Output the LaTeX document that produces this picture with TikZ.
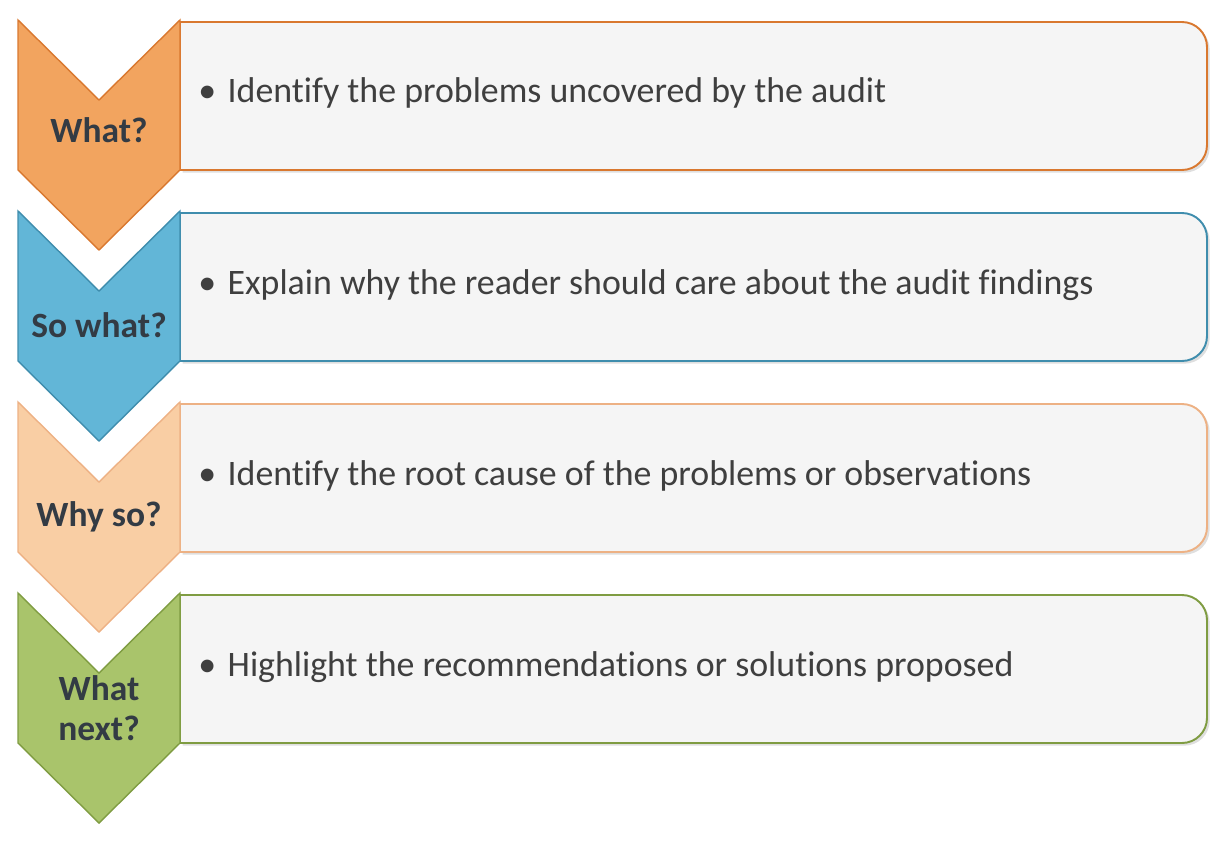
\documentclass[tikz,border=0pt]{standalone}
\usepackage{fontspec}
\setmainfont{Carlito}[Ligatures=NoCommon]
\usetikzlibrary{shadows}

\definecolor{orangeF}{HTML}{F2A45F}
\definecolor{orangeD}{HTML}{D9782F}
\definecolor{blueF}{HTML}{62B6D7}
\definecolor{blueD}{HTML}{3F8DAD}
\definecolor{peachF}{HTML}{F9CEA4}
\definecolor{peachD}{HTML}{EDB184}
\definecolor{greenF}{HTML}{A9C46B}
\definecolor{greenD}{HTML}{7F9C42}
\definecolor{boxgray}{HTML}{F5F5F5}
\definecolor{lblgray}{HTML}{333B44}
\definecolor{itemgray}{HTML}{3F3F3F}

\begin{document}
\begin{tikzpicture}[x=0.02cm,y=0.02cm,
	chev/.style={line width=0.8pt, line join=miter},
	txtbox/.style={fill=boxgray, line width=1.1pt,
		drop shadow={opacity=0.25, shadow xshift=1.5pt, shadow yshift=-1.5pt}},
	lbl/.style={font=\fontsize{20.2}{23}\selectfont\bfseries, text=lblgray, align=center},
	item/.style={anchor=west, inner sep=0pt, font=\fontsize{20.4}{24}\selectfont, text=itemgray}]
	\useasboundingbox (0,0) rectangle (1220,840);

	% What?
	\draw[txtbox, draw=orangeD] (180,818) -- (1182,818) arc[start angle=90, end angle=0, radius=25]
		-- (1207,695) arc[start angle=0, end angle=-90, radius=25] -- (180,670) -- cycle;
	\draw[chev, fill=orangeF, draw=orangeD] (18,820) -- (99,740) -- (180,820) -- (180,670)
		-- (99,590) -- (18,670) -- cycle;
	\node[lbl] (what) at (99,710) {What?};
	\node[item] (whatitem) at (198,747) {\textbullet\hspace{0.32em}Identify the problems uncovered by the audit};

	% So what?
	\draw[txtbox, draw=blueD] (180,627) -- (1182,627) arc[start angle=90, end angle=0, radius=25]
		-- (1207,504) arc[start angle=0, end angle=-90, radius=25] -- (180,479) -- cycle;
	\draw[chev, fill=blueF, draw=blueD] (18,629) -- (99,549) -- (180,629) -- (180,479)
		-- (99,399) -- (18,479) -- cycle;
	\node[lbl] (sowhat) at (99,515) {So what?};
	\node[item] (sowhatitem) at (198,555) {\textbullet\hspace{0.32em}Explain why the reader should care about the audit findings};

	% Why so?
	\draw[txtbox, draw=peachD] (180,436) -- (1182,436) arc[start angle=90, end angle=0, radius=25]
		-- (1207,313) arc[start angle=0, end angle=-90, radius=25] -- (180,288) -- cycle;
	\draw[chev, fill=peachF, draw=peachD] (18,438) -- (99,358) -- (180,438) -- (180,288)
		-- (99,208) -- (18,288) -- cycle;
	\node[lbl] (whyso) at (99,323) {Why so?};
	\node[item] (whysoitem) at (198,364) {\textbullet\hspace{0.32em}Identify the root cause of the problems or observations};

	% What next?
	\draw[txtbox, draw=greenD] (180,245) -- (1182,245) arc[start angle=90, end angle=0, radius=25]
		-- (1207,122) arc[start angle=0, end angle=-90, radius=25] -- (180,97) -- cycle;
	\draw[chev, fill=greenF, draw=greenD] (18,247) -- (99,167) -- (180,247) -- (180,97)
		-- (99,17) -- (18,97) -- cycle;
	\node[lbl] (whatnext) at (99,132) {What\\next?};
	\node[item] (whatnextitem) at (198,173) {\textbullet\hspace{0.32em}Highlight the recommendations or solutions proposed};
\end{tikzpicture}
\end{document}
